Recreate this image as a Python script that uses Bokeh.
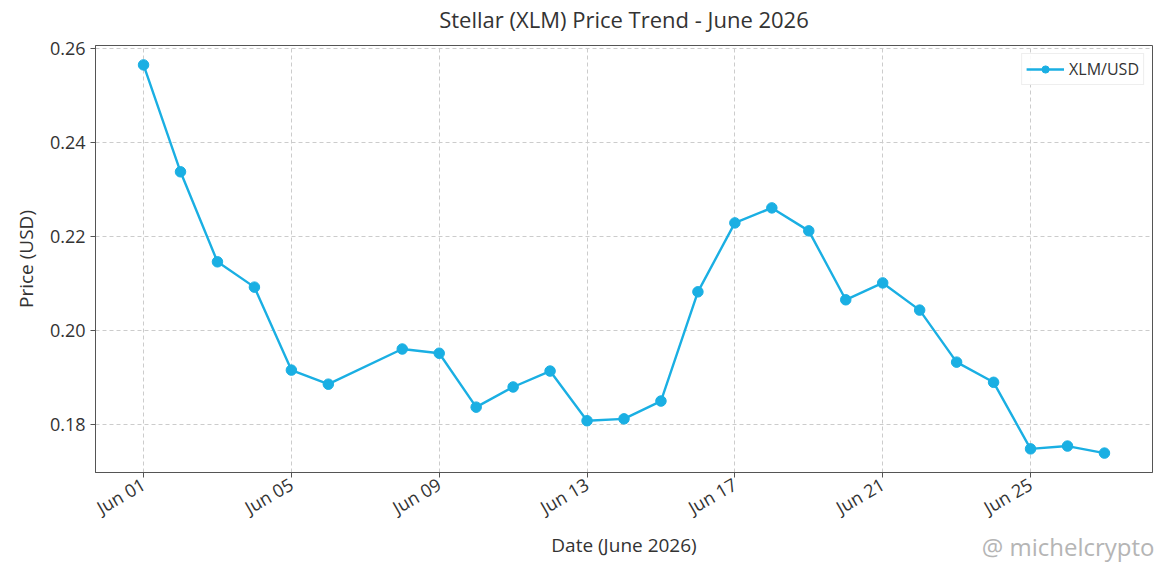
import math
import numpy as np
import pandas as pd
from bokeh.plotting import figure
from bokeh.models import (FixedTicker, DatetimeTickFormatter, Range1d, NumeralTickFormatter,
                          Title, LinearAxis)
from bokeh.embed import file_html
from bokeh.resources import INLINE

# ---- data ----
dates = ["2026-06-01", "2026-06-02", "2026-06-03", "2026-06-04", "2026-06-05",
         "2026-06-06", "2026-06-08", "2026-06-09", "2026-06-10", "2026-06-11",
         "2026-06-12", "2026-06-13", "2026-06-14", "2026-06-15", "2026-06-16",
         "2026-06-17", "2026-06-18", "2026-06-19", "2026-06-20", "2026-06-21",
         "2026-06-22", "2026-06-23", "2026-06-24", "2026-06-25", "2026-06-26",
         "2026-06-27"]
prices = [0.2566, 0.2338, 0.2146, 0.2092, 0.1915,
          0.1885, 0.1960, 0.1951, 0.1836, 0.1879,
          0.1913, 0.1807, 0.1811, 0.1849, 0.2082,
          0.2229, 0.2261, 0.2212, 0.2065, 0.2101,
          0.2043, 0.1932, 0.1889, 0.1747, 0.1753,
          0.1738]
tick_dates = ["2026-06-01", "2026-06-05", "2026-06-09", "2026-06-13",
              "2026-06-17", "2026-06-21", "2026-06-25"]
y_ticks = [0.18, 0.20, 0.22, 0.24, 0.26]

title_text = "Stellar (XLM) Price Trend - June 2026"
x_label = "Date (June 2026)"
y_label = "Price (USD)"
series_name = "XLM/USD"
watermark = "@ michelcrypto"

FONT = "Open Sans"
LINE_COLOR = "#1aafe3"
TEXT_COLOR = "#333333"
W, H = 1170, 571

x = pd.to_datetime(dates)
xmin, xmax = x.min(), x.max()
span = xmax - xmin
xr = Range1d(xmin - span * 0.05, xmax + span * 0.05)
ymin, ymax = min(prices), max(prices)
yspan = ymax - ymin
yr = Range1d(ymin - yspan * 0.05, ymax + yspan * 0.05)

p = figure(width=W, height=H, x_axis_type="datetime",
           x_range=xr, y_range=yr,
           output_backend="svg", toolbar_location=None,
           min_border_left=95, min_border_right=18,
           min_border_top=44, min_border_bottom=99)

main_x = p.xaxis[0]
main_y = p.yaxis[0]

xticker = FixedTicker(ticks=[pd.Timestamp(d).value // 10**6 for d in tick_dates])
yticker = FixedTicker(ticks=y_ticks)
main_x.ticker = xticker
main_x.formatter = DatetimeTickFormatter(days="%b %d", months="%b %d")
main_x.major_label_orientation = math.pi / 6
main_y.ticker = yticker
main_y.formatter = NumeralTickFormatter(format="0.00")

for ax in (main_x, main_y):
    ax.minor_tick_line_color = None
    ax.major_tick_in = 0
    ax.major_tick_out = 5
    ax.axis_line_color = "#555555"
    ax.major_tick_line_color = "#555555"
    ax.major_label_text_font = FONT
    ax.major_label_text_font_size = "18px"
    ax.major_label_text_color = TEXT_COLOR
    ax.axis_label_text_font = FONT
    ax.axis_label_text_font_size = "19px"
    ax.axis_label_text_font_style = "normal"
    ax.axis_label_text_color = TEXT_COLOR

main_x.axis_label = x_label
main_y.axis_label = y_label
main_x.axis_label_standoff = 0
main_y.axis_label_standoff = 8

for g, t in ((p.xgrid[0], xticker), (p.ygrid[0], yticker)):
    g.ticker = t
    g.grid_line_color = "#cccccc"
    g.grid_line_dash = "4 3"
    g.grid_line_width = 1

# title drawn as the label of a bare axis above the frame
title_axis = LinearAxis(ticker=FixedTicker(ticks=[]), axis_label=title_text,
                        axis_line_color=None, major_tick_line_color=None,
                        minor_tick_line_color=None, major_tick_out=0, major_tick_in=0,
                        minor_tick_out=0, minor_tick_in=0,
                        major_label_text_font_size="0px",
                        axis_label_standoff=12,
                        axis_label_text_font=FONT, axis_label_text_font_size="22px",
                        axis_label_text_font_style="normal",
                        axis_label_text_color=TEXT_COLOR)
p.add_layout(title_axis, "above")

p.line(x, prices, line_color=LINE_COLOR, line_width=2.4, legend_label=series_name)
p.scatter(x, prices, size=10.5, fill_color=LINE_COLOR, line_color=LINE_COLOR,
          legend_label=series_name)

p.outline_line_color = "#555555"
p.outline_line_width = 1

p.legend.location = "top_right"
p.legend.label_text_font = FONT
p.legend.label_text_font_size = "16px"
p.legend.label_text_color = TEXT_COLOR
p.legend.border_line_color = "#dddddd"
p.legend.background_fill_alpha = 0.9
p.legend.margin = 8
p.legend.padding = 4
p.legend.glyph_width = 38
p.legend.label_height = 18
p.legend.glyph_height = 18

wm = Title(text=watermark, align="right", vertical_align="top", text_font=FONT,
           text_font_size="24px", text_font_style="normal", text_color="#b5b5b5",
           standoff=-64, offset=-2)
p.add_layout(wm, "below")

p.background_fill_color = "white"
p.border_fill_color = "white"

open("out.html", "w").write(file_html(p, INLINE))
